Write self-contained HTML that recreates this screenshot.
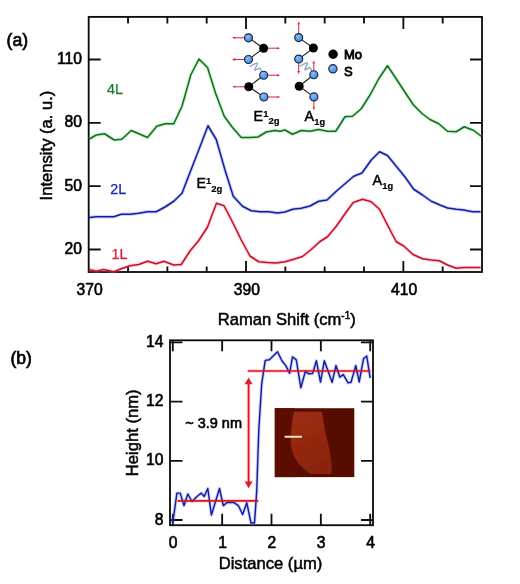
<!DOCTYPE html>
<html lang="en"><head><meta charset="utf-8"><title>Raman and AFM figure</title>
<style>html,body{margin:0;padding:0;background:#fff}body{width:520px;height:584px;overflow:hidden}svg{display:block}text{font-family:"Liberation Sans",Arial,Helvetica,sans-serif;stroke-width:0.5px}.k text{stroke:#000}.k .t text{stroke-width:0.6px}.b{font-weight:bold}</style></head><body>
<svg width="520" height="584" viewBox="0 0 520 584">
<defs><radialGradient id="sg" cx="0.4" cy="0.35" r="0.7"><stop offset="0" stop-color="#8fc0f4"/><stop offset="0.6" stop-color="#5c9ae2"/><stop offset="1" stop-color="#3f7fd0"/></radialGradient>
<filter id="bl" x="-5%" y="-5%" width="110%" height="110%"><feGaussianBlur stdDeviation="0.35"/></filter><filter id="bl2" x="-5%" y="-5%" width="110%" height="110%"><feGaussianBlur stdDeviation="0.5"/></filter><linearGradient id="fg" x1="0" y1="0" x2="0.3" y2="1"><stop offset="0" stop-color="#9e2d13"/><stop offset="1" stop-color="#8a240e"/></linearGradient></defs>
<rect width="520" height="584" fill="#fff"/>
<g filter="url(#bl)" class="k">
<g stroke="#111" stroke-width="1.85" fill="none" stroke-linecap="butt">
<rect x="88.7" y="16.9" width="393.3" height="255.1"/>
<path d="M128.03,16.9v6.5M128.03,272v-5.5M167.36,16.9v6.5M167.36,272v-5.5M206.69,16.9v6.5M206.69,272v-5.5M246.02,16.9v12M246.02,272v-11M285.35,16.9v6.5M285.35,272v-5.5M324.68,16.9v6.5M324.68,272v-5.5M364.01,16.9v6.5M364.01,272v-5.5M403.34,16.9v12M403.34,272v-11M442.67,16.9v6.5M442.67,272v-5.5M88.7,249.49h12M482,249.49h-12M88.7,186.16h12M482,186.16h-12M88.7,122.83h12M482,122.83h-12M88.7,59.50h12M482,59.50h-12"/>
</g>
<g fill="none" stroke-width="3.4" stroke-linejoin="round" stroke-opacity="0.3">
<polyline stroke="#35e04a" points="89,139.25 96.25,135 104.5,133.75 114.25,140 121.75,139.25 131.25,130.5 147.5,137.5 156.75,126.25 165,123.75 173.75,123.75 182,106.25 190.75,75 199,59 207.5,67.5 215.75,93.75 224.25,116.25 232.5,127.5 241.25,137.5 250,137.5 258,137 266.25,132 275,130.5 280,131.25 285,130 292.5,134.25 301.25,130.5 310,131.25 318.75,129.5 327.5,131.25 335.75,131.25 345,116.75 352.5,116.25 361.25,108.75 370,95 378.75,78.75 387.5,65.75 396,78.5 404.5,91.5 413.5,105 422.25,113.75 430,119.5 438.75,123.75 447.5,131.25 456.25,131.75 464.25,126.75 473.75,130.5 481.25,136.25"/>
<polyline stroke="#4a6cff" points="89,217.5 96.25,216.75 113.75,216.75 121.25,214.25 130,214.25 138.75,213.25 147.5,211.75 156.25,211.75 165,207 173.75,201.25 182,193.25 190,172.5 198.75,150 208,125.75 216.25,139.5 225,170 233.25,196.25 242.5,206.25 251.25,210.75 260,211.75 268.75,211.75 277.5,213 285,212 292.5,209.25 301.25,208.25 310,206 318.75,201.25 327,200 336.25,191.25 345,183.75 353.75,176.25 362,173 371.25,160 379.5,151.75 387.5,155.5 396.25,166.25 405,177 413.75,189.25 422.5,195 431.25,201.25 440,205 447.5,208 456.25,209.25 463.75,210 472.5,211.75 480.5,211.75"/>
<polyline stroke="#ff5a6a" points="89,269.5 96.25,271.25 103.75,269.5 113.75,271.75 121.25,268.75 130,265.75 138.75,264.5 147.5,261.25 156.25,263.75 163.75,261.25 173.75,265 181.25,264.5 190,251 198.75,240.5 207.5,227 216.5,203.25 224,205.75 232.5,222 241.25,240 250,256 258.75,261.75 267.5,262.5 276.25,263 285,261.75 293.75,259.25 302.5,256.5 311.25,249.5 320,241.5 327.5,236.75 336.25,226.25 345,213.75 353.25,202.5 362.5,199.25 371.25,201.75 379.5,209.25 387.5,225 396.25,241.75 403.75,246 413,254.5 422.5,258.75 431.25,260 439.25,260.75 447.5,265 456.25,268.25 463.75,267.5 480.5,267.5"/>
</g>
<g fill="none" stroke-width="1.5" stroke-linejoin="round" stroke-linecap="butt">
<polyline stroke="#166a24" points="89,139.25 96.25,135 104.5,133.75 114.25,140 121.75,139.25 131.25,130.5 147.5,137.5 156.75,126.25 165,123.75 173.75,123.75 182,106.25 190.75,75 199,59 207.5,67.5 215.75,93.75 224.25,116.25 232.5,127.5 241.25,137.5 250,137.5 258,137 266.25,132 275,130.5 280,131.25 285,130 292.5,134.25 301.25,130.5 310,131.25 318.75,129.5 327.5,131.25 335.75,131.25 345,116.75 352.5,116.25 361.25,108.75 370,95 378.75,78.75 387.5,65.75 396,78.5 404.5,91.5 413.5,105 422.25,113.75 430,119.5 438.75,123.75 447.5,131.25 456.25,131.75 464.25,126.75 473.75,130.5 481.25,136.25"/>
<polyline stroke="#181f96" points="89,217.5 96.25,216.75 113.75,216.75 121.25,214.25 130,214.25 138.75,213.25 147.5,211.75 156.25,211.75 165,207 173.75,201.25 182,193.25 190,172.5 198.75,150 208,125.75 216.25,139.5 225,170 233.25,196.25 242.5,206.25 251.25,210.75 260,211.75 268.75,211.75 277.5,213 285,212 292.5,209.25 301.25,208.25 310,206 318.75,201.25 327,200 336.25,191.25 345,183.75 353.75,176.25 362,173 371.25,160 379.5,151.75 387.5,155.5 396.25,166.25 405,177 413.75,189.25 422.5,195 431.25,201.25 440,205 447.5,208 456.25,209.25 463.75,210 472.5,211.75 480.5,211.75"/>
<polyline stroke="#c8102c" points="89,269.5 96.25,271.25 103.75,269.5 113.75,271.75 121.25,268.75 130,265.75 138.75,264.5 147.5,261.25 156.25,263.75 163.75,261.25 173.75,265 181.25,264.5 190,251 198.75,240.5 207.5,227 216.5,203.25 224,205.75 232.5,222 241.25,240 250,256 258.75,261.75 267.5,262.5 276.25,263 285,261.75 293.75,259.25 302.5,256.5 311.25,249.5 320,241.5 327.5,236.75 336.25,226.25 345,213.75 353.25,202.5 362.5,199.25 371.25,201.75 379.5,209.25 387.5,225 396.25,241.75 403.75,246 413,254.5 422.5,258.75 431.25,260 439.25,260.75 447.5,265 456.25,268.25 463.75,267.5 480.5,267.5"/>
</g>
<g font-size="15.7px" class="t">
<text x="82" y="253.9" text-anchor="end">20</text>
<text x="82" y="190.6" text-anchor="end">50</text>
<text x="82" y="127.2" text-anchor="end">80</text>
<text x="82" y="63.9" text-anchor="end">110</text>
<text x="89.6" y="295.4" text-anchor="middle">370</text>
<text x="246.9" y="295.4" text-anchor="middle">390</text>
<text x="404.2" y="295.4" text-anchor="middle">410</text>
</g>
<text x="6.6" y="46.2" font-size="17.6px" style="stroke-width:0.7px">(a)</text>
<text x="10.4" y="363.8" font-size="17.6px" style="stroke-width:0.7px">(b)</text>
<text transform="translate(52,145.5) rotate(-90)" text-anchor="middle" font-size="16.6px">Intensity (a. u.)</text>
<text x="286.8" y="324.8" text-anchor="middle" font-size="16.6px">Raman Shift (cm<tspan dy="-6" font-size="10px">-1</tspan><tspan dy="6">)</tspan></text>
<text x="107" y="93.6" font-size="14.3px" style="fill:#1f7d32;stroke:#1f7d32;stroke-width:0.25px">4L</text>
<text x="110.3" y="193.9" font-size="14.3px" style="fill:#1a22c0;stroke:#1a22c0;stroke-width:0.25px">2L</text>
<text x="111.5" y="259.4" font-size="14.3px" style="fill:#dc1e2d;stroke:#dc1e2d;stroke-width:0.25px">1L</text>
<text x="196.4" y="188.1" font-size="14.3px" style="stroke-width:0.45px">E<tspan dy="-3.9" font-size="9.5px" class="b" style="stroke-width:0.2px">1</tspan><tspan dy="7.3" font-size="9.5px" class="b" style="stroke-width:0.2px">2g</tspan></text>
<text x="372.6" y="184.6" font-size="14.3px" style="stroke-width:0.45px">A<tspan dy="3.9" dx="0.2" font-size="9.3px" class="b" style="stroke-width:0.2px">1g</tspan></text>
<text x="253.6" y="120.8" font-size="14.3px" style="stroke-width:0.45px">E<tspan dy="-3.9" font-size="9.5px" class="b" style="stroke-width:0.2px">1</tspan><tspan dy="7.3" font-size="9.5px" class="b" style="stroke-width:0.2px">2g</tspan></text>
<text x="304.6" y="120.8" font-size="14.3px" style="stroke-width:0.45px">A<tspan dy="3.9" dx="0.2" font-size="9.3px" class="b" style="stroke-width:0.2px">1g</tspan></text>
<g>
<path d="M248.5,37.8L263.6,48.2" stroke="#222" stroke-width="1.1"/><path d="M263.6,48.2L248.5,59.5" stroke="#222" stroke-width="1.1"/><path d="M263.7,75.2L248.8,86.8" stroke="#222" stroke-width="1.1"/><path d="M248.8,86.8L263.9,97" stroke="#222" stroke-width="1.1"/><path d="M249.8,66.5C251.2,65.9 256.4,62.5 257.3,63.2C258.2,63.9 254.3,69.2 254.7,70.1C255.1,71.0 258.4,67.9 259.6,68.1C260.8,68.3 261.1,70.8 261.4,71.4" fill="none" stroke="#7f98c4" stroke-width="1.2" stroke-linecap="round" stroke-linejoin="round"/>
<path d="M298.7,37.6L313.4,48" stroke="#222" stroke-width="1.1"/><path d="M313.4,48L298.7,59.1" stroke="#222" stroke-width="1.1"/><path d="M313.8,74.7L299.2,86.2" stroke="#222" stroke-width="1.1"/><path d="M299.2,86.2L313.9,96.9" stroke="#222" stroke-width="1.1"/><path d="M300.0,66.1C301.4,65.5 306.6,62.1 307.5,62.8C308.4,63.5 304.5,68.8 304.9,69.7C305.3,70.6 308.6,67.5 309.8,67.7C311.0,67.9 311.3,70.4 311.6,71.0" fill="none" stroke="#7f98c4" stroke-width="1.2" stroke-linecap="round" stroke-linejoin="round"/>
<path d="M244.5,37.8L235.1,37.8" stroke="#e0222c" stroke-width="1.0" fill="none"/><path d="M232.1,37.8L235.1,36.4L235.1,39.1Z" fill="#e0222c"/>
<path d="M267.6,48.2L277.0,48.2" stroke="#e0222c" stroke-width="1.0" fill="none"/><path d="M280.0,48.2L277.0,49.6L277.0,46.9Z" fill="#e0222c"/>
<path d="M244.5,59.5L235.1,59.5" stroke="#e0222c" stroke-width="1.0" fill="none"/><path d="M232.1,59.5L235.1,58.1L235.1,60.9Z" fill="#e0222c"/>
<path d="M267.7,75.2L277.1,75.2" stroke="#e0222c" stroke-width="1.0" fill="none"/><path d="M280.1,75.2L277.1,76.5L277.1,73.9Z" fill="#e0222c"/>
<path d="M244.8,86.8L235.4,86.8" stroke="#e0222c" stroke-width="1.0" fill="none"/><path d="M232.4,86.8L235.4,85.5L235.4,88.1Z" fill="#e0222c"/>
<path d="M267.9,97.0L277.3,97.0" stroke="#e0222c" stroke-width="1.0" fill="none"/><path d="M280.3,97.0L277.3,98.3L277.3,95.7Z" fill="#e0222c"/>
<path d="M298.7,34.0L298.7,24.5" stroke="#e0222c" stroke-width="1.0" fill="none"/><path d="M298.7,21.5L300.1,24.5L297.3,24.5Z" fill="#e0222c"/>
<path d="M298.7,63.3L298.7,71.1" stroke="#e0222c" stroke-width="1.0" fill="none"/><path d="M298.7,74.1L297.3,71.1L300.1,71.1Z" fill="#e0222c"/>
<path d="M313.8,71.0L313.8,63.4" stroke="#e0222c" stroke-width="1.0" fill="none"/><path d="M313.8,60.4L315.2,63.4L312.4,63.4Z" fill="#e0222c"/>
<path d="M313.9,101.0L313.9,107.2" stroke="#e0222c" stroke-width="1.0" fill="none"/><path d="M313.9,110.2L312.5,107.2L315.2,107.2Z" fill="#e0222c"/>
<circle cx="248.5" cy="37.8" r="4.0" fill="url(#sg)" stroke="#16264f" stroke-width="1.15"/>
<circle cx="263.6" cy="48.2" r="4.5" fill="#000"/>
<circle cx="248.5" cy="59.5" r="4.0" fill="url(#sg)" stroke="#16264f" stroke-width="1.15"/>
<circle cx="263.7" cy="75.2" r="4.0" fill="url(#sg)" stroke="#16264f" stroke-width="1.15"/>
<circle cx="248.8" cy="86.8" r="4.5" fill="#000"/>
<circle cx="263.9" cy="97" r="4.0" fill="url(#sg)" stroke="#16264f" stroke-width="1.15"/>
<circle cx="298.7" cy="37.6" r="4.0" fill="url(#sg)" stroke="#16264f" stroke-width="1.15"/>
<circle cx="313.4" cy="48" r="4.5" fill="#000"/>
<circle cx="298.7" cy="59.1" r="4.0" fill="url(#sg)" stroke="#16264f" stroke-width="1.15"/>
<circle cx="313.8" cy="74.7" r="4.0" fill="url(#sg)" stroke="#16264f" stroke-width="1.15"/>
<circle cx="299.2" cy="86.2" r="4.5" fill="#000"/>
<circle cx="313.9" cy="96.9" r="4.0" fill="url(#sg)" stroke="#16264f" stroke-width="1.15"/>
<circle cx="333.1" cy="54.2" r="4.7" fill="#000"/>
<circle cx="332.9" cy="68.8" r="4.15" fill="url(#sg)" stroke="#16264f" stroke-width="1.15"/>
</g>
<text x="343.9" y="58.8" font-size="13px" style="stroke-width:0.85px">Mo</text>
<text x="343.9" y="75.9" font-size="13px" style="stroke-width:0.85px">S</text>
<g stroke="#111" stroke-width="1.85" fill="none">
<rect x="170" y="340.3" width="203" height="184.90000000000003"/>
<path d="M172.80,340.3v11M172.80,525.2v-11.5M222.15,340.3v11M222.15,525.2v-11.5M271.50,340.3v11M271.50,525.2v-11.5M320.85,340.3v11M320.85,525.2v-11.5M370.20,340.3v11M370.20,525.2v-11.5M170,520.00h12.5M373,520.00h-12M170,460.80h12.5M373,460.80h-12M170,401.60h12.5M373,401.60h-12M170,342.40h12.5M373,342.40h-12"/>
</g>
<g filter="url(#bl2)">
<rect x="274.8" y="408.2" width="79.5" height="68.9" fill="#560a04"/>
<rect x="274.8" y="408.2" width="20" height="68.9" fill="#5c0e06"/>
<polygon points="294.221,411.651 321.903,411.651 323.633,422.031 325.363,432.412 327.958,442.792 330.554,454.903 331.765,465.284 331.419,473.934 310.657,473.934 304.602,469.609 297.682,462.689 293.356,454.903 291.107,446.253 290.761,435.872 291.626,425.491 292.837,416.841" fill="url(#fg)"/>
<rect x="284.6" y="435.8" width="17.4" height="1.9" fill="#ffe9d2"/>
</g>
<polyline points="172.7,523.5 176.9,493.1 180.2,493.1 184,505.6 187.8,494 192,501.5 197.5,496 201.3,493.1 204.2,496.5 207.8,488.5 211.4,515 219.5,488.5 223.3,505.6 227.4,502.2 234.2,502.6 238.5,505.8 242.6,514.5 246.8,502.8 251,523 254.5,523 256.7,491.4 258.8,430 261.7,383.8 265.2,360.4 269.4,359.8 277.5,351.7 281.9,360.8 285.8,365.6 289.6,373.3 292.5,356.9 296.3,359.8 300.8,387.7 305.4,371.3 308.7,373.8 312.6,373.6 316.4,360.8 320.5,382.1 324.3,360.8 332.1,382.3 336,365.6 339.8,377.1 343.3,374.6 348.1,382.9 351,382.3 355.8,365.6 359.2,381.9 363.5,358.8 366.7,356 370.2,378.1" fill="none" stroke="#4a6cff" stroke-opacity="0.3" stroke-width="3.4" stroke-linejoin="round"/>
<path d="M177.5,500.8H258.3M247.7,371H370.5M248.6,383V483" fill="none" stroke="#ff5a6a" stroke-opacity="0.3" stroke-width="3.6"/>
<polyline points="172.7,523.5 176.9,493.1 180.2,493.1 184,505.6 187.8,494 192,501.5 197.5,496 201.3,493.1 204.2,496.5 207.8,488.5 211.4,515 219.5,488.5 223.3,505.6 227.4,502.2 234.2,502.6 238.5,505.8 242.6,514.5 246.8,502.8 251,523 254.5,523 256.7,491.4 258.8,430 261.7,383.8 265.2,360.4 269.4,359.8 277.5,351.7 281.9,360.8 285.8,365.6 289.6,373.3 292.5,356.9 296.3,359.8 300.8,387.7 305.4,371.3 308.7,373.8 312.6,373.6 316.4,360.8 320.5,382.1 324.3,360.8 332.1,382.3 336,365.6 339.8,377.1 343.3,374.6 348.1,382.9 351,382.3 355.8,365.6 359.2,381.9 363.5,358.8 366.7,356 370.2,378.1" fill="none" stroke="#181f96" stroke-width="1.45" stroke-linejoin="round"/>
<g stroke="#e0161f" stroke-width="1.7" fill="none">
<path d="M177.5,500.8H258.3M247.7,371H370.5M248.6,383V483"/>
</g>
<path d="M248.6,377.6l4,6.6h-8zM248.6,488.2l4,-6.8h-8z" fill="#e81c24"/>
<g font-size="15.7px" class="t">
<text x="163.5" y="524.6" text-anchor="end">8</text>
<text x="163.5" y="465.4" text-anchor="end">10</text>
<text x="163.5" y="406.2" text-anchor="end">12</text>
<text x="163.5" y="347.0" text-anchor="end">14</text>
<text x="173.1" y="547.6" text-anchor="middle">0</text>
<text x="222.5" y="547.6" text-anchor="middle">1</text>
<text x="271.8" y="547.6" text-anchor="middle">2</text>
<text x="321.2" y="547.6" text-anchor="middle">3</text>
<text x="370.5" y="547.6" text-anchor="middle">4</text>
</g>
<text transform="translate(137.6,432.8) rotate(-90)" text-anchor="middle" font-size="16.6px">Height (nm)</text>
<text x="270.5" y="568.5" text-anchor="middle" font-size="16.6px">Distance (µm)</text>
<text x="185.2" y="427.8" font-size="14.5px" style="stroke-width:0.6px">~ 3.9 nm</text>
</g>
</svg></body></html>
